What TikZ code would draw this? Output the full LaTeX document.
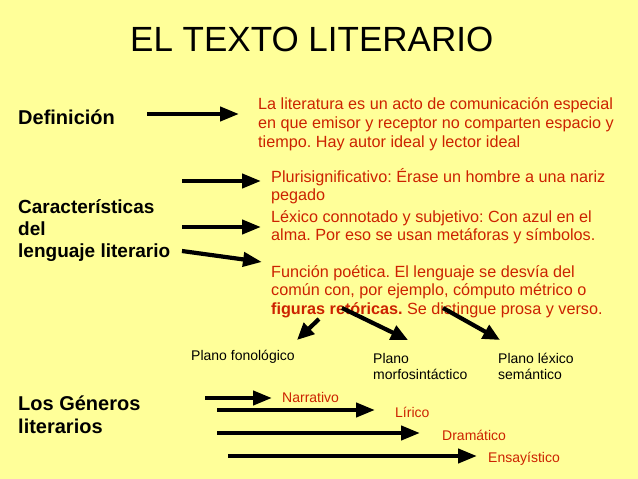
\documentclass[tikz,border=0pt]{standalone}
\usepackage{fontspec}
\setmainfont{Liberation Sans}
\usetikzlibrary{arrows.meta}
\frenchspacing
\tikzset{>={Triangle[width=14pt,length=19pt]}}
\definecolor{paleyellow}{HTML}{FFFF99}
\definecolor{darkred}{HTML}{CC2200}
\newcommand{\DARKRED}[1]{\textcolor{darkred}{#1}}
\tikzset{
  txt/.style={anchor=base west, inner sep=0pt, align=left},
  heading/.style={txt, font=\fontsize{20}{22}\selectfont\bfseries},
  redtext/.style={txt, text=darkred, font=\fontsize{16.2}{18.5}\selectfont},
  plano/.style={txt, font=\fontsize{14}{16.5}\selectfont},
  genero/.style={txt, text=darkred, font=\fontsize{14}{16}\selectfont},
  bigarrow/.style={->, line width=4.2pt},
}

\begin{document}
\begin{tikzpicture}[x=1pt,y=-1pt]

  \fill[paleyellow] (0,0) rectangle (638,479); %% background

  \node[txt, font=\fontsize{35}{42}\selectfont] (title) at (130,52)
  {EL TEXTO LITERARIO};

  %% definicion (multi-line nodes sit on their last baseline)
  \node[heading] (def) at (18,124) {Definición};
  \node[redtext, font=\fontsize{16.2}{19}\selectfont] (deftext) at (258,147)
  {La literatura es un acto de comunicación especial\\
   en que emisor y receptor no comparten espacio y\\
   tiempo. Hay autor ideal y lector ideal};
  \coordinate (d1) at (147,114);
  \coordinate (d2) at (239,114);
  \draw[bigarrow] (d1) -- (d2);

  %% caracteristicas
  \node[heading, font=\fontsize{19}{22}\selectfont\bfseries] (car) at (18,257)
  {Características\\del\\lenguaje literario};
  \node[redtext] (c1) at (271,200.5)
  {Plurisignificativo: Érase un hombre a una nariz\\pegado};
  \node[redtext] (c2) at (271,240.5)
  {Léxico connotado y subjetivo: Con azul en el\\
   alma. Por eso se usan metáforas y símbolos.};
  \node[redtext] (c3) at (271,314)
  {Función poética. El lenguaje se desvía del\\
   común con, por ejemplo, cómputo métrico o\\
   \textbf{figuras retóricas.} Se distingue prosa y verso.};
  \coordinate (a1) at (182,181); \coordinate (b1) at (261,181);
  \coordinate (a2) at (182,227); \coordinate (b2) at (261,227);
  \coordinate (a3) at (182,251); \coordinate (b3) at (262,262);
  \draw[bigarrow] (a1) -- (b1);
  \draw[bigarrow] (a2) -- (b2);
  \draw[bigarrow] (a3) -- (b3);

  %% planos
  \node[plano] (p1) at (191,360) {Plano fonológico};
  \node[plano] (p2) at (373,379.5) {Plano\\morfosintáctico};
  \node[plano] (p3) at (498,379.5) {Plano léxico\\semántico};
  \coordinate (f1) at (319,319); \coordinate (g1) at (297,340);
  \coordinate (f2) at (342,308); \coordinate (g2) at (408,340);
  \coordinate (f3) at (443,308); \coordinate (g3) at (500,340);
  \draw[bigarrow, >={Triangle[width=15pt,length=17pt]}] (f1) -- (g1);
  \draw[bigarrow, >={Triangle[width=15pt,length=17pt]}] (f2) -- (g2);
  \draw[bigarrow, >={Triangle[width=15pt,length=17pt]}] (f3) -- (g3);

  %% generos
  \node[heading, font=\fontsize{20}{23}\selectfont\bfseries] (gen) at (18,433)
  {Los Géneros\\literarios};
  \node[genero] (narr) at (282,402) {Narrativo};
  \node[genero] (lir) at (395,417) {Lírico};
  \node[genero] (dram) at (442,440) {Dramático};
  \node[genero] (ens) at (488,462) {Ensayístico};
  \coordinate (s1) at (205,398); \coordinate (t1) at (272,398);
  \coordinate (s2) at (217,410); \coordinate (t2) at (375,410);
  \coordinate (s3) at (217,433); \coordinate (t3) at (420,433);
  \coordinate (s4) at (228,456); \coordinate (t4) at (477,456);
  \draw[bigarrow] (s1) -- (t1);
  \draw[bigarrow] (s2) -- (t2);
  \draw[bigarrow] (s3) -- (t3);
  \draw[bigarrow] (s4) -- (t4);

\end{tikzpicture}
\end{document}
